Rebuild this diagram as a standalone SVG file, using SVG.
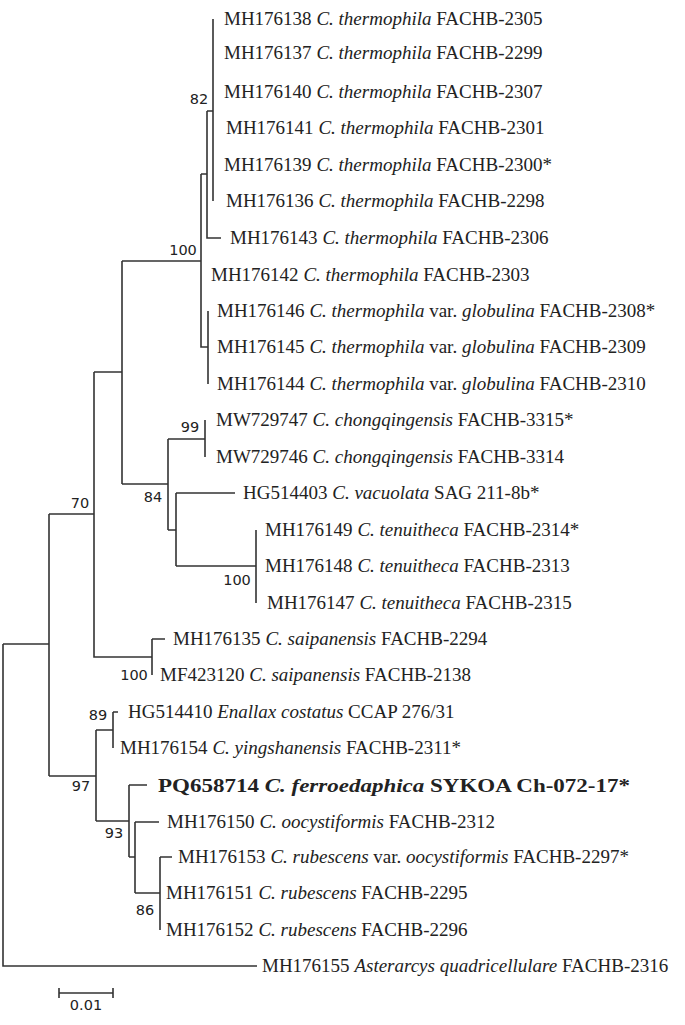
<svg xmlns="http://www.w3.org/2000/svg" width="685" height="1025" viewBox="0 0 685 1025">
<style>
.e{stroke:#333;stroke-width:1.6;fill:none}
.t{font-family:"Liberation Serif",serif;font-size:19px;fill:#222}
.b{font-family:"DejaVu Sans",sans-serif;font-size:14.5px;fill:#222;text-anchor:middle}
</style>
<rect width="685" height="1025" fill="#fff"/>
<g id="edges" class="e">
<path d="M213,19V201M207,111H213M207,111V238H221M201,174H207M122,261H201M201,174V347H208M208,311V384"/>
<path d="M122,261V484M94,372H122M122,484H168M168,439V530M168,439H205M205,420V457M168,530H176M176,493V566M176,493H235M176,566H256M256,530V603"/>
<path d="M94,372V657H152M152,639V675M152,639H165"/>
<path d="M49,514H94M49,514V776M3,644H49M3,644V966H257"/>
<path d="M49,776H96M96,730V821M96,730H113M113,712V748M113,712H118M96,821H129M129,785V857M129,785H147M129,857H135M135,822V893M135,822H159M135,893H160M160,857V930M160,857H172"/>
<path d="M59,993H113M59,988V998M113,988V998"/>
</g>
<g id="tips">
<text class="t" x="224" y="25">MH176138 <tspan font-style="italic">C. thermophila</tspan> FACHB-2305</text>
<text class="t" x="224" y="59">MH176137 <tspan font-style="italic">C. thermophila</tspan> FACHB-2299</text>
<text class="t" x="224" y="98">MH176140 <tspan font-style="italic">C. thermophila</tspan> FACHB-2307</text>
<text class="t" x="226" y="134">MH176141 <tspan font-style="italic">C. thermophila</tspan> FACHB-2301</text>
<text class="t" x="224" y="171">MH176139 <tspan font-style="italic">C. thermophila</tspan> FACHB-2300*</text>
<text class="t" x="226" y="207">MH176136 <tspan font-style="italic">C. thermophila</tspan> FACHB-2298</text>
<text class="t" x="230" y="244">MH176143 <tspan font-style="italic">C. thermophila</tspan> FACHB-2306</text>
<text class="t" x="211" y="281">MH176142 <tspan font-style="italic">C. thermophila</tspan> FACHB-2303</text>
<text class="t" x="217" y="317">MH176146 <tspan font-style="italic">C. thermophila</tspan> var. <tspan font-style="italic">globulina</tspan> FACHB-2308*</text>
<text class="t" x="217" y="353">MH176145 <tspan font-style="italic">C. thermophila</tspan> var. <tspan font-style="italic">globulina</tspan> FACHB-2309</text>
<text class="t" x="217" y="390">MH176144 <tspan font-style="italic">C. thermophila</tspan> var. <tspan font-style="italic">globulina</tspan> FACHB-2310</text>
<text class="t" x="216" y="426">MW729747 <tspan font-style="italic">C. chongqingensis</tspan> FACHB-3315*</text>
<text class="t" x="216" y="463">MW729746 <tspan font-style="italic">C. chongqingensis</tspan> FACHB-3314</text>
<text class="t" x="243" y="499">HG514403 <tspan font-style="italic">C. vacuolata</tspan> SAG 211-8b*</text>
<text class="t" x="265" y="536">MH176149 <tspan font-style="italic">C. tenuitheca</tspan> FACHB-2314*</text>
<text class="t" x="265" y="572">MH176148 <tspan font-style="italic">C. tenuitheca</tspan> FACHB-2313</text>
<text class="t" x="267" y="609">MH176147 <tspan font-style="italic">C. tenuitheca</tspan> FACHB-2315</text>
<text class="t" x="173" y="645">MH176135 <tspan font-style="italic">C. saipanensis</tspan> FACHB-2294</text>
<text class="t" x="160" y="681">MF423120 <tspan font-style="italic">C. saipanensis</tspan> FACHB-2138</text>
<text class="t" x="128" y="718">HG514410 <tspan font-style="italic">Enallax costatus</tspan> CCAP 276/31</text>
<text class="t" x="120" y="754">MH176154 <tspan font-style="italic">C. yingshanensis</tspan> FACHB-2311*</text>
<text class="t" x="158" y="792" font-weight="bold" font-size="22" textLength="472" lengthAdjust="spacingAndGlyphs">PQ658714 <tspan font-style="italic">C. ferroedaphica</tspan> SYKOA Ch-072-17*</text>
<text class="t" x="167" y="828">MH176150 <tspan font-style="italic">C. oocystiformis</tspan> FACHB-2312</text>
<text class="t" x="178" y="863">MH176153 <tspan font-style="italic">C. rubescens</tspan> var. <tspan font-style="italic">oocystiformis</tspan> FACHB-2297*</text>
<text class="t" x="166" y="899">MH176151 <tspan font-style="italic">C. rubescens</tspan> FACHB-2295</text>
<text class="t" x="166" y="936">MH176152 <tspan font-style="italic">C. rubescens</tspan> FACHB-2296</text>
<text class="t" x="262" y="972">MH176155 <tspan font-style="italic">Asterarcys quadricellulare</tspan> FACHB-2316</text>
</g>
<g id="support">
<text class="b" x="199" y="104">82</text>
<text class="b" x="183" y="255">100</text>
<text class="b" x="190" y="432">99</text>
<text class="b" x="153" y="502">84</text>
<text class="b" x="237" y="585">100</text>
<text class="b" x="80" y="508">70</text>
<text class="b" x="134" y="680">100</text>
<text class="b" x="98" y="720">89</text>
<text class="b" x="81" y="791">97</text>
<text class="b" x="114" y="838">93</text>
<text class="b" x="145" y="915">86</text>
<text class="b" x="86" y="1010">0.01</text>
</g>
</svg>
